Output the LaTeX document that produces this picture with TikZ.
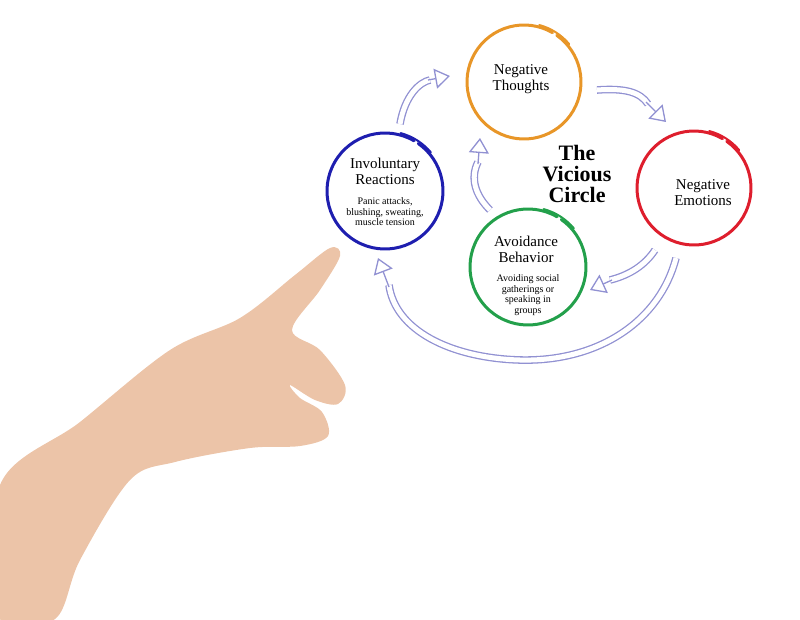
\documentclass[tikz,border=0pt]{standalone}
\usepackage{fontspec}
\setmainfont{Liberation Serif}
\usetikzlibrary{arrows.meta}
\definecolor{corange}{RGB}{232,150,40}
\definecolor{cred}{RGB}{222,30,45}
\definecolor{cblue}{RGB}{30,30,175}
\definecolor{cgreen}{RGB}{35,160,75}
\definecolor{arrc}{RGB}{145,145,210}
\definecolor{skin}{RGB}{236,196,168}
\tikzset{
 ring/.style={line width=3pt,line cap=round},
 tail/.style={line width=2pt,line cap=round},
 lbl/.style={align=center,font=\fontsize{15}{16}\selectfont},
 sub/.style={align=center,font=\fontsize{10}{10.5}\selectfont},
 shaft/.style={draw=arrc,double=white,double distance=5pt,line width=1.3pt},
 tipst/.style={draw=arrc,line width=1.3pt,-{Triangle[open,fill=white,length=15pt,width=20pt]}}
}
\newcommand{\myring}[4]{%
 \draw[ring,#4] (#1,#2) ++(-60:#3) arc (-60:-415:#3);
 \draw[tail,#4] (#1,#2) ++(-75:#3+2) arc (-75:-40:#3+2);}
\begin{document}
\begin{tikzpicture}[x=1pt,y=-1pt]
\useasboundingbox (0,0) rectangle (800,619);
% hand
\fill[skin] plot[smooth cycle,tension=0.55] coordinates{
 (0,485) (80,422) (170,350) (240,318) (295,275) (330,248) (340,256)
 (320,290) (292,330) (320,350) (345,385) (338,404) (315,400) (290,385)
 (300,398) (322,412) (328,436) (300,446) (250,448) (175,462) (130,480)
 (80,560) (55,619) (0,619)};
% rings
\myring{524}{82}{57}{corange}
\myring{694}{188}{57}{cred}
\myring{385}{191}{58}{cblue}
\myring{528}{267}{58}{cgreen}
\node[lbl] (nt) at (521,79) {Negative\\Thoughts};
\node[lbl] (ne) at (703,193) {Negative\\Emotions};
\node[lbl] (ir) at (385,171) {Involuntary\\Reactions};
\node[sub] (irs) at (385,212) {Panic attacks,\\blushing, sweating,\\muscle tension};
\node[lbl] (ab) at (526,249) {Avoidance\\Behavior};
\node[sub] (abs) at (528,295) {Avoiding social\\gatherings or\\speaking in\\groups};
\node[align=center,font=\bfseries\fontsize{22}{21}\selectfont] (title) at (577,174) {The\\Vicious\\Circle};
% arrows
\coordinate (a1s) at (400,124); \coordinate (a1e) at (450,76);
\draw[shaft] (a1s) .. controls (405,95) and (420,82) .. (430,80);
\draw[tipst] (428,80) -- (a1e);
\coordinate (a2s) at (597,90); \coordinate (a2e) at (666,122);
\draw[shaft] (a2s) .. controls (625,88) and (640,92) .. (648,104);
\draw[tipst] (646,102) -- (a2e);
\coordinate (a3s) at (655,250); \coordinate (a3e) at (590,290);
\draw[shaft] (a3s) .. controls (645,265) and (630,275) .. (610,280);
\draw[tipst] (612,280) -- (a3e);
\coordinate (a4s) at (490,210); \coordinate (a4e) at (480,138);
\draw[shaft] (a4s) .. controls (475,195) and (470,178) .. (478,162);
\draw[tipst] (478,164) -- (a4e);
\coordinate (a5s) at (676,258); \coordinate (a5e) at (378,258);
\draw[shaft] (a5s) .. controls (660,320) and (600,362) .. (520,360)
 .. controls (450,358) and (395,330) .. (389,285);
\draw[tipst] (389,287) -- (a5e);
\end{tikzpicture}
\end{document}
